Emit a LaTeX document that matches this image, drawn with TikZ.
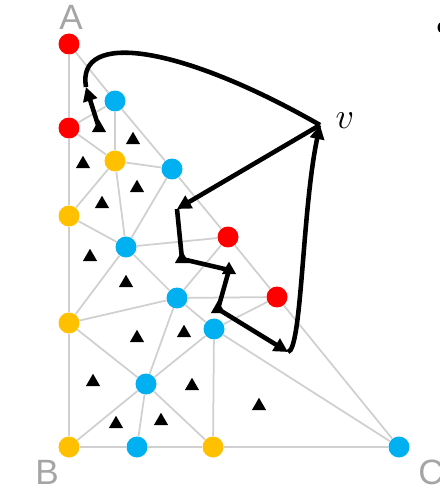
\documentclass[tikz,border=0pt]{standalone}
\usepackage{fontspec}
\newfontfamily\cornerfont{Liberation Sans}
\usetikzlibrary{arrows.meta, shapes.geometric}
\definecolor{vred}{RGB}{255,0,0}
\definecolor{vcyan}{RGB}{0,176,240}
\definecolor{vyellow}{RGB}{255,192,0}
\definecolor{meshgray}{RGB}{208,208,208}
\definecolor{cornergray}{RGB}{165,165,165}

\begin{document}
\begin{tikzpicture}[x=0.02cm, y=-0.02cm,
        vtx/.style={circle, inner sep=0pt, minimum size=0.42cm},
        rvtx/.style={vtx, fill=vred},
        cvtx/.style={vtx, fill=vcyan},
        yvtx/.style={vtx, fill=vyellow},
        face/.style={regular polygon, regular polygon sides=3, fill=black,
                        inner sep=0pt, minimum size=0.33cm},
        mesh/.style={draw=meshgray, line width=1pt},
        walk/.style={draw=black, line width=2.6pt},
        tip/.style={-{Triangle[length=8pt, width=8pt]}},
        corner/.style={text=cornergray, inner sep=0pt,
                        font=\cornerfont\fontsize{20}{20}\selectfont}]
    \useasboundingbox (0,0) rectangle (439,493);

    \node[rvtx] (vA) at (69,44) {};
    \node[rvtx] (vL1) at (69,128) {};
    \node[yvtx] (vL2) at (69,216) {};
    \node[yvtx] (vL3) at (69,323) {};
    \node[yvtx] (vB) at (69,447) {};
    \node[cvtx] (vD1) at (137,447) {};
    \node[yvtx] (vD2) at (213,447) {};
    \node[cvtx] (vC) at (399,447) {};
    \node[cvtx] (vH1) at (115,101) {};
    \node[cvtx] (vH2) at (172,169) {};
    \node[rvtx] (vH3) at (228,237) {};
    \node[rvtx] (vH4) at (277,297) {};
    \node[yvtx] (vI1) at (115,161) {};
    \node[cvtx] (vI2) at (126,247) {};
    \node[cvtx] (vI3) at (177,298) {};
    \node[cvtx] (vI4) at (214,329) {};
    \node[cvtx] (vI5) at (146,384) {};

    \node[corner] (labA) at (71,17) {A};
    \node[corner] (labB) at (47,472) {B};
    \node[corner] (labC) at (431,472) {C};

    \draw[mesh] (vA) -- (vL1) -- (vL2) -- (vL3) -- (vB);
    \draw[mesh] (vB) -- (vD1) -- (vD2) -- (vC);
    \draw[mesh] (vA) -- (vH1) -- (vH2) -- (vH3) -- (vH4) -- (vC);
    \draw[mesh] (vL1) -- (vH1);
    \draw[mesh] (vL1) -- (vI1);
    \draw[mesh] (vH1) -- (vI1);
    \draw[mesh] (vI1) -- (vH2);
    \draw[mesh] (vI1) -- (vL2);
    \draw[mesh] (vI1) -- (vI2);
    \draw[mesh] (vH2) -- (vI2);
    \draw[mesh] (vL2) -- (vI2);
    \draw[mesh] (vI2) -- (vH3);
    \draw[mesh] (vI2) -- (vI3);
    \draw[mesh] (vI2) -- (vL3);
    \draw[mesh] (vH3) -- (vI3);
    \draw[mesh] (vI3) -- (vH4);
    \draw[mesh] (vI3) -- (vI4);
    \draw[mesh] (vH4) -- (vI4);
    \draw[mesh] (vI4) -- (vC);
    \draw[mesh] (vI4) -- (vD2);
    \draw[mesh] (vI3) -- (vL3);
    \draw[mesh] (vI3) -- (vI5);
    \draw[mesh] (vL3) -- (vI5);
    \draw[mesh] (vI5) -- (vI4);
    \draw[mesh] (vI5) -- (vB);
    \draw[mesh] (vI5) -- (vD1);
    \draw[mesh] (vI5) -- (vD2);

    \node[face] (f1) at (133,140) {};
    \node[face] (f2) at (83,164) {};
    \node[face] (f3) at (137,188) {};
    \node[face] (f4) at (102,204) {};
    \node[face] (f5) at (90,257) {};
    \node[face] (f6) at (126,283) {};
    \node[face] (f7) at (137,338) {};
    \node[face] (f8) at (184,333) {};
    \node[face] (f9) at (93,382) {};
    \node[face] (f10) at (192,386) {};
    \node[face] (f11) at (116,424) {};
    \node[face] (f12) at (161,421) {};
    \node[face] (f13) at (259,406) {};

    \node[face] (p0) at (99,128) {};
    \coordinate (p1) at (86,87);
    \coordinate (p2) at (177,209);
    \node[face] (p3) at (182,259) {};
    \node[face] (p4) at (229,270) {};
    \node[face] (p5) at (218,309) {};
    \coordinate (p6) at (288,352);
    \coordinate (v) at (320,125);
    \node[inner sep=0pt, font=\fontsize{21}{21}\selectfont] (vlab) at (345,121) {$v$};

    \draw[walk, tip] (p0.center) -- (p1);
    \draw[walk] (p1) .. controls (76,30) and (180,45) .. (v);
    \draw[walk, tip] (v) -- (p2);
    \draw[walk] (p2) -- (p3.center) -- (p4.center) -- (p5.center);
    \draw[walk, tip] (p5.center) -- (p6);
    \draw[walk, tip] (p6) .. controls (302,350) and (302,210) .. (v);

    \fill (443,27.5) ellipse (5.5 and 6);
\end{tikzpicture}
\end{document}
